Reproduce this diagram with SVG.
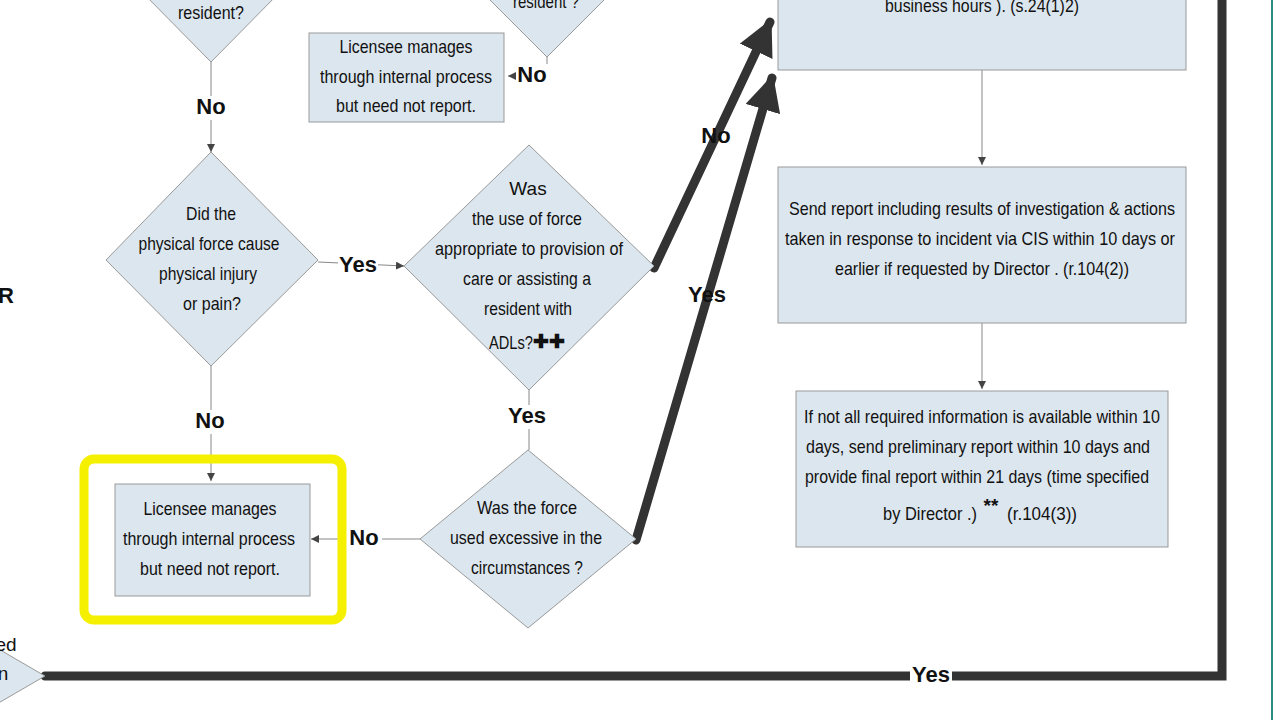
<svg xmlns="http://www.w3.org/2000/svg" width="1280" height="720" viewBox="0 0 1280 720">
<style>
.s{fill:#dce6ee;stroke:#999;stroke-width:1}
.t{font-family:"Liberation Sans",sans-serif;font-size:19px;fill:#111;text-anchor:middle;dominant-baseline:middle}
.l{font-family:"Liberation Sans",sans-serif;font-size:22px;font-weight:bold;fill:#111;text-anchor:middle;dominant-baseline:middle}
.thin{stroke:#888;stroke-width:1;fill:none}
.thick{stroke:#333;stroke-width:9;fill:none;stroke-linecap:round}
</style>
<defs>
<marker id="a" viewBox="0 0 10 10" refX="10" refY="5" markerWidth="8" markerHeight="8" markerUnits="userSpaceOnUse" orient="auto"><path d="M0,0L10,5L0,10z" fill="#444"/></marker>
<marker id="b" viewBox="0 0 10 10" refX="9" refY="5" markerWidth="4" markerHeight="4" orient="auto"><path d="M0,0L10,5L0,10z" fill="#333"/></marker>
</defs>
<rect width="1280" height="720" fill="#fff"/>
<line x1="1272" y1="0" x2="1272" y2="720" stroke="#2a8a86" stroke-width="2"/>
<text x="6" y="297" class="l" font-size="28">R</text>
<g id="connectors">
<path class="thin" d="M547,57V76H508" marker-end="url(#a)"/>
<path class="thin" d="M211,62V152" marker-end="url(#a)"/>
<path class="thin" d="M318,262L404,266" marker-end="url(#a)"/>
<path class="thin" d="M211,366V481" marker-end="url(#a)"/>
<path class="thin" d="M529,390V450"/>
<path class="thin" d="M420,539H311" marker-end="url(#a)"/>
<path class="thin" d="M982,70V165" marker-end="url(#a)"/>
<path class="thin" d="M982,323V389" marker-end="url(#a)"/>
<path class="thick" d="M654,268L770,22" marker-end="url(#b)"/>
<path class="thick" d="M636,540L772,78" marker-end="url(#b)"/>
<path class="thick" d="M45,676H1222V0"/>
<rect x="193" y="96" width="36" height="24" fill="#fff"/><text x="211" y="108" class="l">No</text>
<rect x="516" y="64" width="32" height="24" fill="#fff"/><text x="532" y="76" class="l">No</text>
<rect x="338" y="254" width="40" height="24" fill="#fff"/><text x="358" y="266" class="l">Yes</text>
<rect x="192" y="410" width="36" height="24" fill="#fff"/><text x="210" y="422" class="l">No</text>
<rect x="507" y="405" width="40" height="24" fill="#fff"/><text x="527" y="417" class="l">Yes</text>
<rect x="346" y="527" width="36" height="24" fill="#fff"/><text x="364" y="539" class="l">No</text>
<text x="716" y="137" class="l">No</text>
<text x="707" y="296" class="l">Yes</text>
<rect x="910" y="664" width="42" height="24" fill="#fff"/><text x="931" y="676" class="l">Yes</text>
</g>
<g id="d0"><path class="s" d="M-60,615L45,676L-60,737z"/><text x="6" y="646" class="t">ed</text><text x="3" y="675" class="t">n</text></g>
<g id="d1"><path class="s" d="M140,-10L211,62L282,-10z"/><text x="211" y="14" class="t" textLength="66" lengthAdjust="spacingAndGlyphs">resident?</text></g>
<g id="d1b"><path class="s" d="M480,-10L547,57L614,-10z"/><text x="546" y="3" class="t" textLength="66" lengthAdjust="spacingAndGlyphs">resident ?</text></g>
<g id="box1"><rect class="s" x="309" y="33" width="195" height="89"/><text x="406" y="48" class="t" textLength="133" lengthAdjust="spacingAndGlyphs">Licensee manages</text><text x="406" y="78" class="t" textLength="172" lengthAdjust="spacingAndGlyphs">through internal process</text><text x="406" y="107" class="t" textLength="140" lengthAdjust="spacingAndGlyphs">but need not report.</text></g>
<g id="d2"><path class="s" d="M211,152L318,260L211,366L106,260z"/><text x="211" y="215" class="t" textLength="50" lengthAdjust="spacingAndGlyphs">Did the</text><text x="209" y="245" class="t" textLength="141" lengthAdjust="spacingAndGlyphs">physical force cause</text><text x="208" y="275" class="t" textLength="98" lengthAdjust="spacingAndGlyphs">physical injury</text><text x="212" y="305" class="t" textLength="58" lengthAdjust="spacingAndGlyphs">or pain?</text></g>
<g id="d3"><path class="s" d="M529,145L654,266L529,390L404,266z"/><text x="528" y="190" class="t">Was</text><text x="527" y="220" class="t" textLength="110" lengthAdjust="spacingAndGlyphs">the use of force</text><text x="529" y="250" class="t" textLength="188" lengthAdjust="spacingAndGlyphs">appropriate  to provision of</text><text x="527" y="280" class="t" textLength="128" lengthAdjust="spacingAndGlyphs">care or assisting a</text><text x="528" y="310" class="t" textLength="88" lengthAdjust="spacingAndGlyphs">resident with</text><text x="511" y="344" class="t" textLength="44" lengthAdjust="spacingAndGlyphs">ADLs?</text><text x="549" y="343" class="t" font-weight="bold" font-size="22">✚✚</text></g>
<g id="d4"><path class="s" d="M528,450L636,539L528,628L420,539z"/><text x="527" y="509" class="t" textLength="100" lengthAdjust="spacingAndGlyphs">Was the  force</text><text x="526" y="539" class="t" textLength="152" lengthAdjust="spacingAndGlyphs">used excessive in  the</text><text x="527" y="569" class="t" textLength="112" lengthAdjust="spacingAndGlyphs">circumstances ?</text></g>
<g id="box2"><rect x="84" y="459" width="258" height="161" rx="10" fill="none" stroke="#f5f000" stroke-width="9"/><rect class="s" x="115" y="484" width="195" height="112"/><text x="210" y="510" class="t" textLength="133" lengthAdjust="spacingAndGlyphs">Licensee manages</text><text x="209" y="540" class="t" textLength="172" lengthAdjust="spacingAndGlyphs">through internal process</text><text x="210" y="570" class="t" textLength="140" lengthAdjust="spacingAndGlyphs">but need not report.</text></g>
<g id="r1"><rect class="s" x="778" y="-20" width="408" height="90"/><text x="982" y="7" class="t" textLength="194" lengthAdjust="spacingAndGlyphs">business hours ). (s.24(1)2)</text></g>
<g id="r2"><rect class="s" x="778" y="167" width="408" height="156"/><text x="982" y="210" class="t" textLength="386" lengthAdjust="spacingAndGlyphs">Send report including results of investigation   &amp; actions</text><text x="980" y="240" class="t" textLength="390" lengthAdjust="spacingAndGlyphs">taken in response to incident via CIS  within   10 days or</text><text x="982" y="270" class="t" textLength="294" lengthAdjust="spacingAndGlyphs">earlier if requested by Director . (r.104(2))</text></g>
<g id="r3"><rect class="s" x="796" y="391" width="372" height="156"/><text x="982" y="418" class="t" textLength="356" lengthAdjust="spacingAndGlyphs">If not all required information is available within   10</text><text x="978" y="448" class="t" textLength="344" lengthAdjust="spacingAndGlyphs">days, send preliminary report within  10 days and</text><text x="977" y="478" class="t" textLength="344" lengthAdjust="spacingAndGlyphs">provide final report within  21 days  (time specified</text><text x="930" y="515" class="t" textLength="94" lengthAdjust="spacingAndGlyphs">by Director .)</text><text x="991" y="507" class="t" font-weight="bold" font-size="24">**</text><text x="1042" y="515" class="t" textLength="70" lengthAdjust="spacingAndGlyphs">(r.104(3))</text></g>
</svg>
